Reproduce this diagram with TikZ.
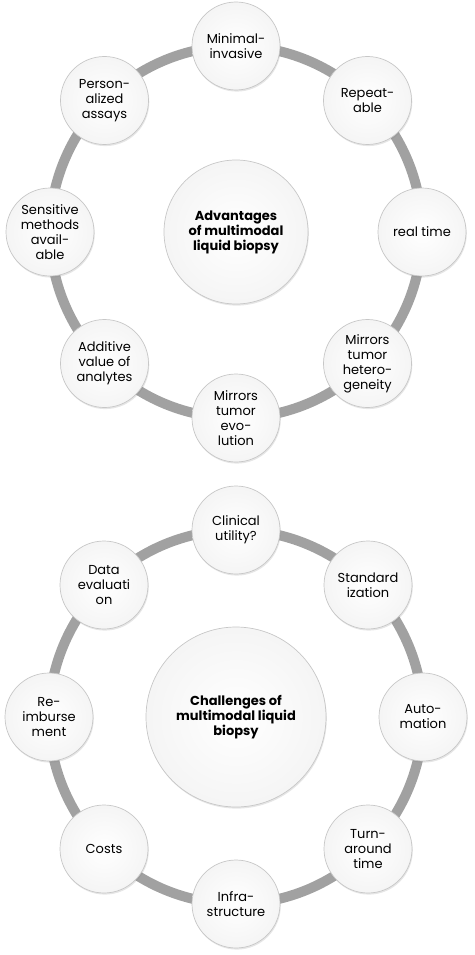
\documentclass[tikz,border=0pt]{standalone}
\usepackage{fontspec}
\setmainfont{Poppins}
\usetikzlibrary{shadows,backgrounds}
\tikzset{
  item/.style={circle, draw=black!22, line width=0.7pt,
    inner color=white, outer color=black!4,
    minimum size=88pt, inner sep=0pt, align=center,
    font=\fontsize{13}{15}\selectfont, text=black,
    drop shadow={opacity=0.2, shadow xshift=0.8pt, shadow yshift=-1.6pt}},
  hub/.style={item, text=black, font=\bfseries\fontsize{13}{15}\selectfont},
  ring/.style={draw=black!37, line width=10pt, bend left=22.5, looseness=0.886},
}
\begin{document}
\begin{tikzpicture}[x=1pt,y=-1pt]
\useasboundingbox (0,0) rectangle (474,955);
% ---- Advantages ----
\node[hub, minimum size=144pt] (A) at (236,232) {Advantages\\of multimodal\\liquid biopsy};
\node[item] (a1) at (236,46) {Minimal-\\invasive};
\node[item] (a2) at (367.5,100.5) {Repeat-\\able};
\node[item] (a3) at (422,232) {real time};
\node[item] (a4) at (367.5,363.5) {Mirrors\\tumor\\hetero-\\geneity};
\node[item] (a5) at (236,418) {Mirrors\\tumor\\evo-\\lution};
\node[item] (a6) at (104.5,363.5) {Additive\\value of\\analytes};
\node[item] (a7) at (50,232) {Sensitive\\methods\\avail-\\able};
\node[item] (a8) at (104.5,100.5) {Person-\\alized\\assays};
% ---- Challenges ----
\node[hub, minimum size=180pt] (C) at (236,717) {Challenges of\\multimodal liquid\\biopsy};
\node[item] (c1) at (236,530) {Clinical\\utility?};
\node[item] (c2) at (368,585) {Standard\\ization};
\node[item] (c3) at (423,717) {Auto-\\mation};
\node[item] (c4) at (368,849) {Turn-\\around\\time};
\node[item] (c5) at (236,904) {Infra-\\structure};
\node[item] (c6) at (104,849) {Costs};
\node[item] (c7) at (49,717) {Re-\\imburse\\ment};
\node[item] (c8) at (104,585) {Data\\evaluati\\on};
\begin{scope}[on background layer]
  \foreach \i/\j in {1/2,2/3,3/4,4/5,5/6,6/7,7/8,8/1} {
    \draw[ring] (a\i.center) to (a\j.center);
    \draw[ring] (c\i.center) to (c\j.center);
  }
\end{scope}
\end{tikzpicture}
\end{document}
